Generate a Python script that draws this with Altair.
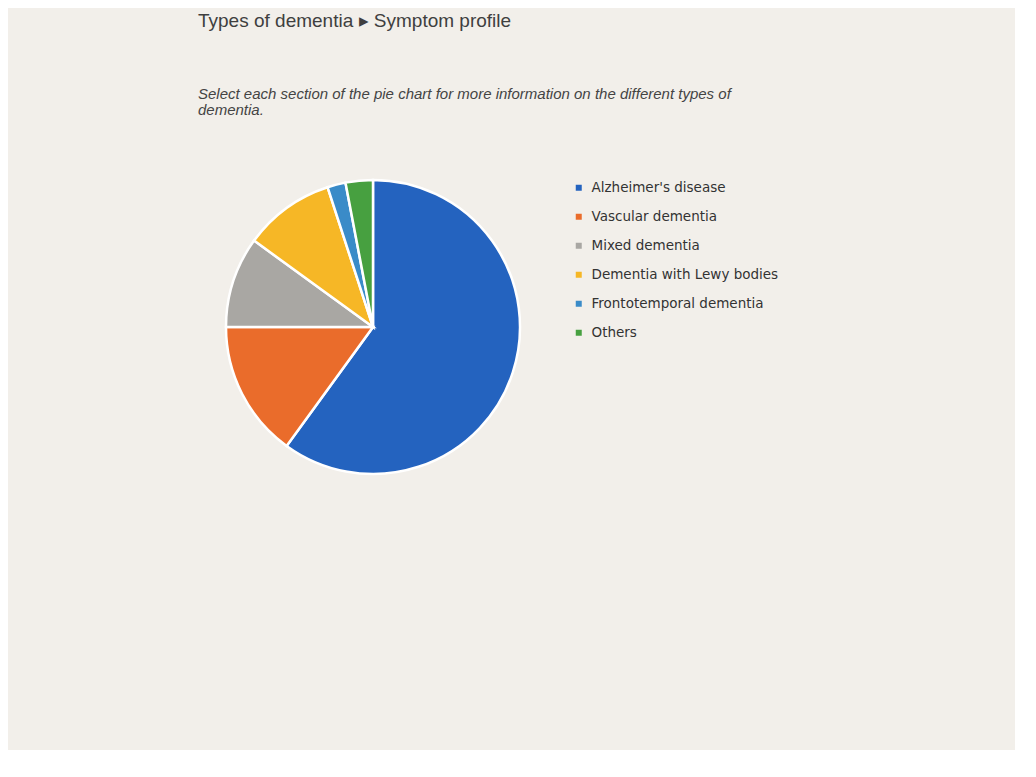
import altair as alt
import pandas as pd

categories = ["Alzheimer's disease", "Vascular dementia", "Mixed dementia",
              "Dementia with Lewy bodies", "Frontotemporal dementia", "Others"]
shares = [60, 15, 10, 10, 2, 3]
colors = ["#2463BF", "#EA6C2B", "#A9A7A3", "#F6B726", "#3A8BC8", "#47A040"]

df = pd.DataFrame({"type": categories, "share": shares, "order": list(range(len(categories)))})

pie = alt.Chart(df).mark_arc(outerRadius=147, stroke="white", strokeWidth=2.5).encode(
    theta=alt.Theta("share:Q", stack=True),
    order=alt.Order("order:Q"),
    color=alt.Color(
        "type:N",
        sort=categories,
        scale=alt.Scale(domain=categories, range=colors),
        legend=alt.Legend(
            title=None,
            orient="none",
            legendX=564,
            legendY=41,
            symbolType="square",
            symbolSize=36,
            symbolStrokeWidth=0,
            labelFont="DejaVu Sans",
            labelFontSize=13.5,
            labelColor="#333333",
            labelLimit=400,
            rowPadding=14,
            labelOffset=6,
        ),
    ),
    tooltip=["type:N", "share:Q"],
)

chart = pie.properties(
    width=730,
    height=374,
    padding={"left": 0, "top": 4, "right": 236, "bottom": 236},
    background="#F2EFEA",
    title=alt.TitleParams(
        text="Types of dementia ▸ Symptom profile",
        subtitle=["Select each section of the pie chart for more information on the different types of",
                  "dementia."],
        anchor="start",
        frame="group",
        dx=190,
        font="Liberation Sans",
        fontSize=19,
        fontWeight="normal",
        color="#3F3F3F",
        subtitleFont="Liberation Sans",
        subtitleFontSize=15,
        subtitleFontStyle="italic",
        subtitleColor="#444444",
        subtitleLineHeight=16,
        subtitlePadding=56,
        offset=22,
    ),
).configure_view(stroke=None)

chart.save("out.html", embed_options={"renderer": "svg", "actions": False})
